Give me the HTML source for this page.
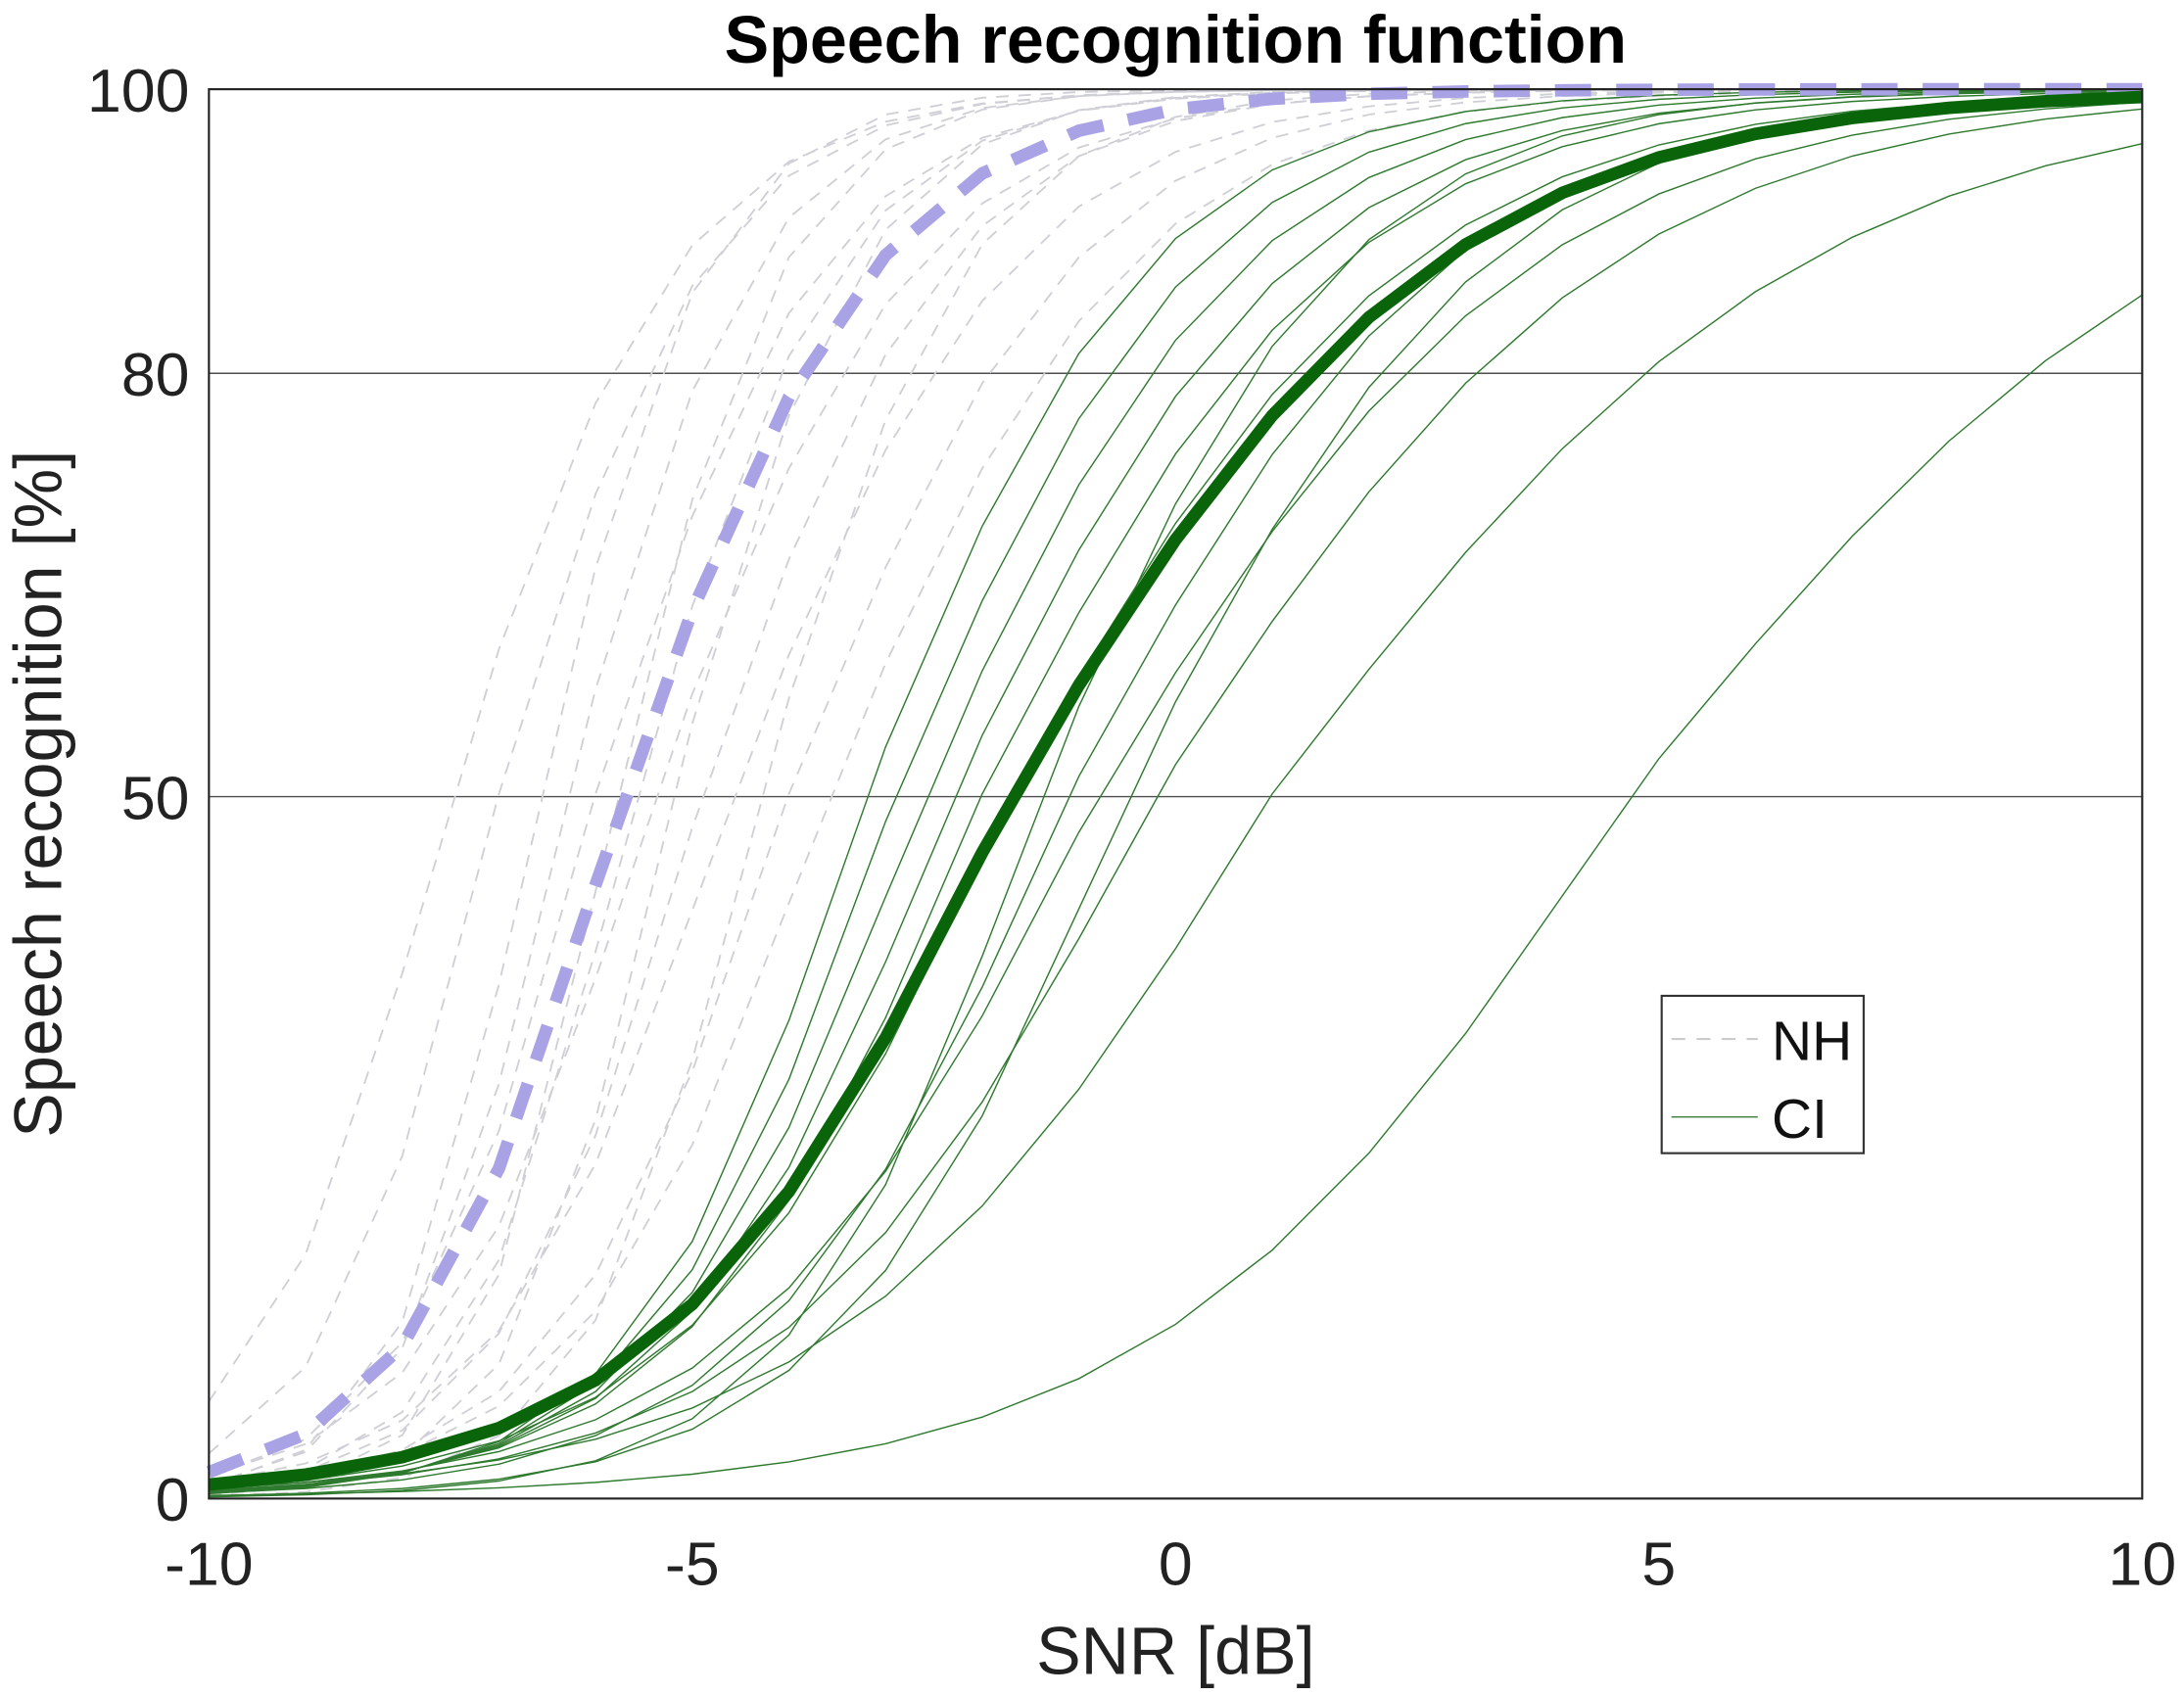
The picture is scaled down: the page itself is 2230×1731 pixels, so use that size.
<!DOCTYPE html>
<html><head><meta charset="utf-8"><style>html,body{margin:0;padding:0;background:#fff}svg{display:block}</style></head>
<body>
<svg id="s" width="2230" height="1731" viewBox="0 0 1568 1217" xmlns="http://www.w3.org/2000/svg" font-family="Liberation Sans, sans-serif">
<rect width="1568" height="1217" fill="#fff"/>
<g stroke="#222" stroke-width="1" opacity="0.8">
<line x1="150" y1="268" x2="1538" y2="268"/>
<line x1="150" y1="572" x2="1538" y2="572"/>
</g>
<g id="curves"></g>
<rect x="150" y="64" width="1388" height="1012" fill="none" stroke="#222" stroke-width="1.5"/>
<g font-size="44" fill="#222" text-anchor="end">
<text x="136" y="80">100</text>
<text x="136" y="284">80</text>
<text x="136" y="588">50</text>
<text x="136" y="1092">0</text>
</g>
<g font-size="44" fill="#222" text-anchor="middle">
<text x="150" y="1138">-10</text>
<text x="497" y="1138">-5</text>
<text x="844" y="1138">0</text>
<text x="1191" y="1138">5</text>
<text x="1538" y="1138">10</text>
<text x="844" y="1202" font-size="48">SNR [dB]</text>
<text x="844" y="45" font-size="48" font-weight="bold" fill="#000">Speech recognition function</text>
<text transform="translate(44,570) rotate(-90)" font-size="48">Speech recognition [%]</text>
</g>
<rect x="1193" y="715" width="145" height="113" fill="#fff" stroke="#333" stroke-width="1.5"/>
<line x1="1200" y1="746" x2="1262" y2="746" stroke="#ccc" stroke-width="1.5" stroke-dasharray="10,8"/>
<line x1="1200" y1="802" x2="1262" y2="802" stroke="#3a7a3a" stroke-width="1"/>
<text x="1272" y="761" font-size="40" fill="#111">NH</text>
<text x="1272" y="817" font-size="40" fill="#111">CI</text>
</svg>
<script>
var g=document.getElementById('curves');
function px(x){return 150+(x+10)*69.4}
function py(p){return 1076-10.12*p}
function pts(m,s){var a=[];for(var x=-10;x<=10;x++){var ss=x<m?s*0.8:s;var p=100/(1+Math.exp(-(x-m)/ss));a.push(px(x).toFixed(1)+','+py(p).toFixed(1));}return a.join(' ');}
function add(m,s,st,w,da){var e=document.createElementNS('http://www.w3.org/2000/svg','polyline');e.setAttribute('points',pts(m,s));e.setAttribute('fill','none');e.setAttribute('stroke',st);e.setAttribute('stroke-width',w);if(da)e.setAttribute('stroke-dasharray',da);g.appendChild(e);}
var nh=[[-7.5,1.2],[-7.0,1.1],[-6.6,0.9],[-6.3,1.0],[-6.0,1.2],[-5.8,0.9],[-5.6,1.1],[-5.4,1.4],[-5.2,1.0],[-4.9,1.3],[-4.6,1.5],[-4.3,1.1],[-4.0,1.5],[-3.6,1.6]];
nh.forEach(function(c){add(c[0],c[1],'#cfcfd6',1.3,'9,7');});
var ci=[[-3.2,1.5],[-2.9,1.6],[-2.6,1.7],[-2.3,1.8],[-2.0,1.9],[-1.7,2.1],[-1.4,1.6],[-1.1,2.0],[-0.8,2.3],[-0.5,1.9],[-0.2,2.4],[1.0,2.8],[4.7,3.0]];
ci.forEach(function(c){add(c[0],c[1],'#2e7a2e',1,null);});
add(-5.72,1.35,'#a9a3e6',9,'26,18');
add(-1.7,2.25,'#0a640a',9,null);
</script>
</body></html>
